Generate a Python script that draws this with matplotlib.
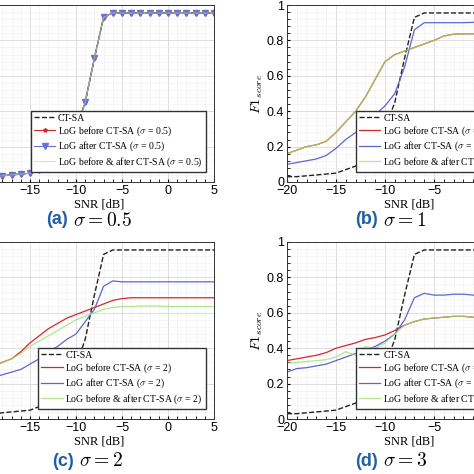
import numpy as np
import matplotlib
matplotlib.use("Agg")
import matplotlib.pyplot as plt
from matplotlib.ticker import MultipleLocator

plt.rcParams['mathtext.fontset'] = 'cm'

snr = list(range(-20, 6))
ct_sa = [0.03,0.03,0.035,0.04,0.045,0.05,0.07,0.09,0.12,0.17,0.30,0.45,0.70,0.93,0.955,0.955,0.955,0.955,0.955,0.955,0.955,0.955,0.955,0.955,0.955,0.955]
a_before = ct_sa
a_after = ct_sa
a_both = ct_sa
b_before = [0.16,0.18,0.20,0.21,0.23,0.28,0.34,0.40,0.48,0.58,0.68,0.72,0.74,0.76,0.78,0.80,0.825,0.835,0.837,0.837,0.837,0.837,0.837,0.837,0.837,0.837]
b_after = [0.10,0.11,0.12,0.13,0.15,0.19,0.24,0.28,0.32,0.38,0.43,0.50,0.65,0.86,0.90,0.90,0.90,0.90,0.90,0.902,0.90,0.90,0.90,0.90,0.90,0.90]
b_both = b_before
c_before = [0.28,0.30,0.32,0.34,0.38,0.43,0.47,0.51,0.54,0.57,0.59,0.61,0.63,0.65,0.67,0.68,0.685,0.685,0.685,0.685,0.685,0.685,0.685,0.685,0.685,0.685]
c_after = [0.22,0.235,0.25,0.265,0.28,0.31,0.34,0.38,0.41,0.45,0.48,0.55,0.62,0.75,0.78,0.775,0.775,0.775,0.775,0.775,0.775,0.775,0.775,0.775,0.775,0.775]
c_both = [0.28,0.30,0.32,0.34,0.37,0.41,0.44,0.47,0.50,0.53,0.56,0.58,0.60,0.62,0.63,0.635,0.635,0.638,0.638,0.638,0.635,0.635,0.635,0.635,0.635,0.635]
d_before = [0.33,0.34,0.35,0.36,0.375,0.40,0.415,0.43,0.45,0.46,0.475,0.50,0.53,0.55,0.565,0.57,0.575,0.58,0.58,0.575,0.575,0.575,0.575,0.575,0.575,0.575]
d_after = [0.265,0.285,0.29,0.30,0.31,0.33,0.35,0.37,0.39,0.41,0.44,0.48,0.56,0.685,0.71,0.70,0.70,0.705,0.705,0.70,0.70,0.70,0.70,0.70,0.70,0.70]
d_both = [0.315,0.32,0.325,0.33,0.335,0.35,0.38,0.36,0.41,0.40,0.43,0.48,0.53,0.55,0.565,0.57,0.575,0.58,0.58,0.575,0.575,0.575,0.575,0.575,0.575,0.575]

panels = [
    ("a", "0.5", a_before, a_after, a_both, True),
    ("b", "1", b_before, b_after, b_both, False),
    ("c", "2", c_before, c_after, c_both, False),
    ("d", "3", d_before, d_after, d_both, False),
]

W = 474.0
fig = plt.figure(figsize=(4.74, 4.74), dpi=100)
geo = [(-16, 5, 214, 182), (287, 5, 532, 182), (-16, 242, 214, 419), (287, 242, 532, 419)]
cap = [(87, 220), (397, 220), (93, 461), (397, 461)]

for i, (lab, sig, bef, aft, both, markers) in enumerate(panels):
    l, t, r, b = geo[i]
    ax = fig.add_axes([l / W, 1 - b / W, (r - l) / W, (b - t) / W])
    ax.plot(snr, ct_sa, '--', color='#222222', lw=1.0, label='CT-SA')
    if markers:
        ax.plot(snr, bef, '-', color='#d62728', lw=0.8, marker='*', ms=3,
                label=r'LoG before CT-SA ($\sigma$ = %s)' % sig)
        ax.plot(snr, aft, '-', color='#6a6fd0', lw=0.8, marker='v', ms=4,
                mfc='#6a6fd0', label=r'LoG after CT-SA ($\sigma$ = %s)' % sig)
        ax.plot(snr, both, '-', color='#a6e07a', lw=0.8, alpha=0.6,
                label=r'LoG before & after CT-SA ($\sigma$ = %s)' % sig)
    else:
        ax.plot(snr, bef, '-', color='#d62728', lw=0.9,
                label=r'LoG before CT-SA ($\sigma$ = %s)' % sig)
        ax.plot(snr, aft, '-', color='#5b66d0', lw=0.9,
                label=r'LoG after CT-SA ($\sigma$ = %s)' % sig)
        ax.plot(snr, both, '-', color='#9fe070', lw=0.9, alpha=0.8,
                label=r'LoG before & after CT-SA ($\sigma$ = %s)' % sig)
    ax.set_xlim(-20, 5)
    ax.set_ylim(0, 1)
    ax.xaxis.set_major_locator(MultipleLocator(5))
    ax.xaxis.set_minor_locator(MultipleLocator(1))
    ax.yaxis.set_minor_locator(MultipleLocator(0.04))
    ax.grid(which='major', color='#d8d8d8', lw=0.6)
    ax.grid(which='minor', color='#eeeeee', lw=0.4)
    ax.set_yticks([0, 0.2, 0.4, 0.6, 0.8, 1])
    ax.set_yticklabels(['0', '0.2', '0.4', '0.6', '0.8', '1'])
    ax.tick_params(labelsize=9, direction='in', length=2, which='both', pad=2)
    for tl in ax.get_xticklabels() + ax.get_yticklabels():
        tl.set_family('Liberation Sans')
    for s in ax.spines.values():
        s.set_color('#333333'); s.set_linewidth(0.7)
    ax.set_xlabel('SNR [dB]', family='Liberation Serif', fontsize=9, labelpad=1)
    ax.set_ylabel(r'$F1_{score}$', fontsize=10, labelpad=1)
    ax.legend(loc='lower right', bbox_to_anchor=(0.985, 0.03),
              prop={'family': 'Liberation Serif', 'size': 7},
              frameon=True, fancybox=False, edgecolor='#333333', framealpha=1,
              borderpad=0.3, labelspacing=0.2, handlelength=2.2, handletextpad=0.3)
    cx, cy = cap[i]
    fig.text(cx / W - 0.04, 1 - cy / W, '(%s)' % lab, color='#1f5fa8', fontweight='bold',
             family='Liberation Sans', fontsize=13, ha='right', va='center')
    fig.text(cx / W - 0.03, 1 - cy / W, r'$\sigma = %s$' % sig, fontsize=14,
             ha='left', va='center')

fig.savefig('out.png', dpi=100)
